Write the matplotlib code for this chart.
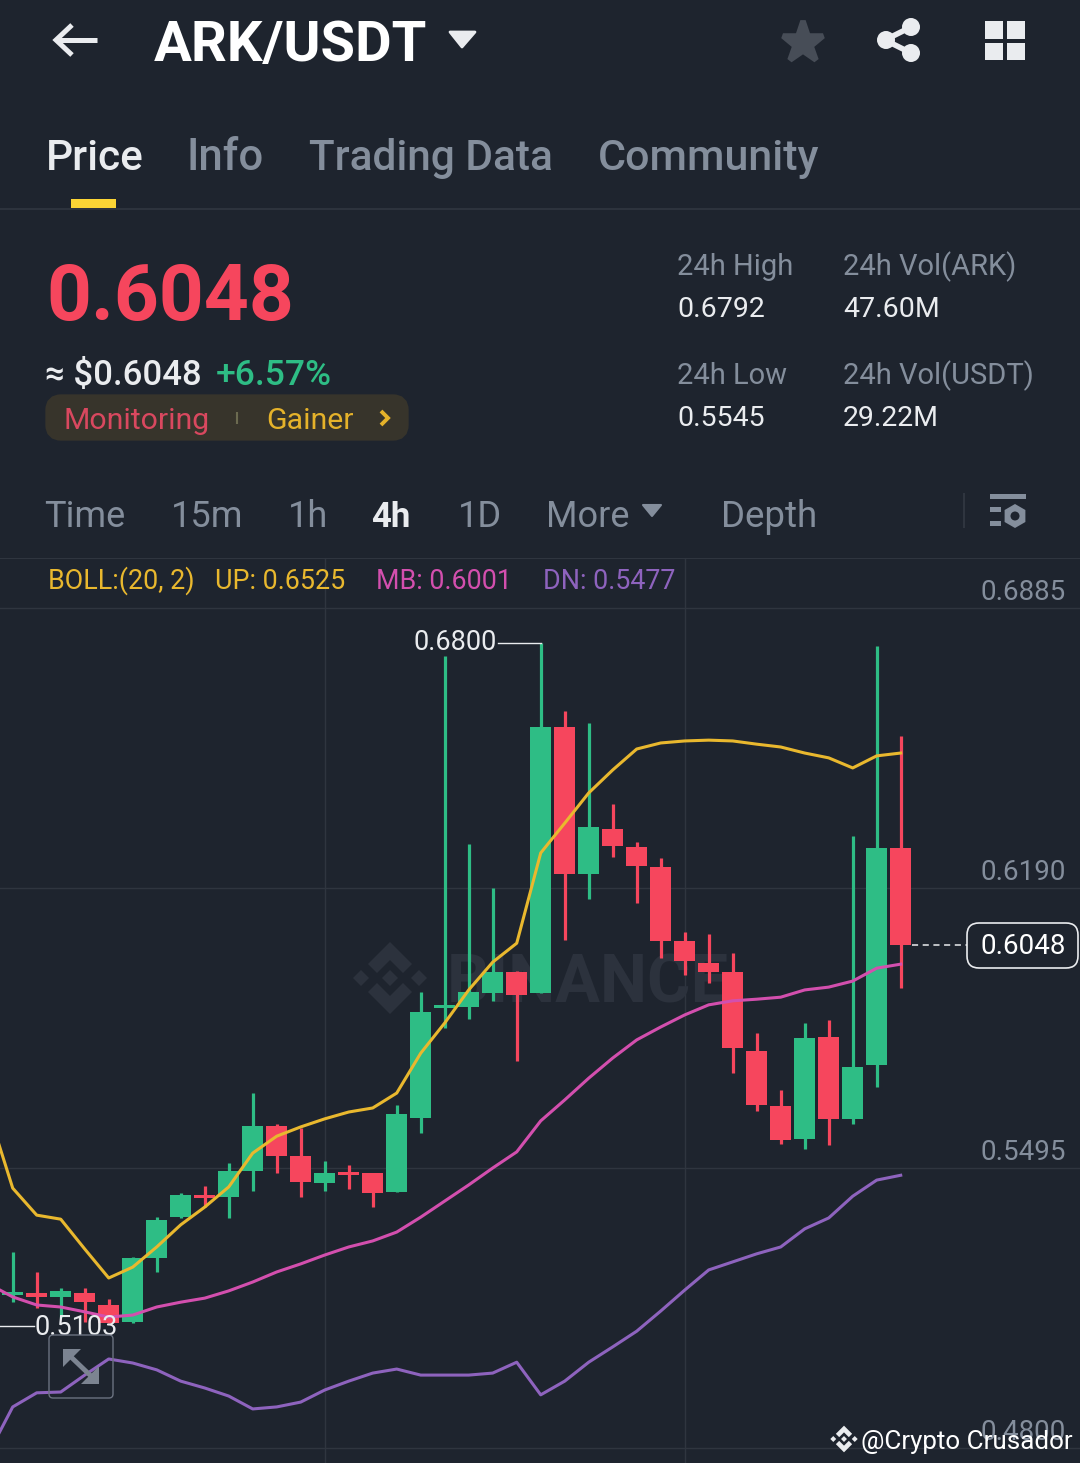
import numpy as np
import matplotlib
matplotlib.use('Agg')
import matplotlib.pyplot as plt
from matplotlib.patches import Rectangle, FancyBboxPatch, Polygon, Circle, RegularPolygon
from matplotlib.transforms import ScaledTranslation

plt.rcParams['font.family'] = ['Roboto', 'DejaVu Sans']

# 4h candles
opens = [.5180, .5185, .5175, .5185, .5155, .5113, .5272, .5373, .5428, .5423,
         .5488, .5599, .5525, .5458, .5485, .5483, .5435, .5619, .5892, .5895,
         .5929, .5982, .5929, .6590, .6225, .6336, .6292, .6242, .6058, .6004,
         .5982, .5785, .5649, .5567, .5820, .5617, .5751, .6289]
closes = [.5187, .5175, .5190, .5162, .5110, .5272, .5366, .5428, .5421, .5488,
          .5599, .5525, .5460, .5483, .5478, .5433, .5629, .5882, .5900, .5932,
          .5982, .5924, .6590, .6225, .6341, .6294, .6245, .6058, .6009, .5982,
          .5793, .5651, .5564, .5818, .5617, .5746, .6289, .6048]
highs = [.5286, .5237, .5197, .5197, .5170, .5274, .5373, .5433, .5450, .5507,
         .5681, .5604, .5594, .5512, .5502, .5483, .5651, .5932, .6766, .6299,
         .6190, .5984, .6798, .6629, .6600, .6398, .6304, .6264, .6081, .6076,
         .6029, .5830, .5689, .5855, .5862, .6319, .6791, .6567]
lows = [.5162, .5148, .5125, .5113, .5110, .5110, .5237, .5371, .5398, .5371,
        .5438, .5483, .5423, .5438, .5443, .5398, .5435, .5582, .5843, .5865,
        .5910, .5761, .5929, .6061, .6163, .6267, .6153, .6016, .5974, .5954,
        .5731, .5636, .5555, .5542, .5552, .5604, .5696, .5942]

# Bollinger bands, first point is one candle off the left edge
boll_up = [.5634, .5445, .5378, .5368, .5294, .5222, .5249, .5299, .5354, .5398,
           .5448, .5532, .5574, .5597, .5617, .5634, .5644, .5681, .5780, .5855,
           .5937, .6006, .6053, .6277, .6351, .6426, .6483, .6535, .6550, .6555,
           .6557, .6555, .6547, .6540, .6525, .6513, .6488, .6518, .6525]
boll_mb = [.5207, .5175, .5155, .5150, .5138, .5125, .5130, .5150, .5162, .5172,
           .5190, .5212, .5237, .5257, .5279, .5299, .5314, .5336, .5373, .5413,
           .5453, .5495, .5535, .5612, .5664, .5718, .5768, .5813, .5845, .5875,
           .5900, .5910, .5914, .5919, .5937, .5944, .5959, .5991, .6001]
boll_dn = [.4788, .4902, .4937, .4939, .4981, .5021, .5011, .4994, .4966, .4949,
           .4929, .4897, .4902, .4914, .4944, .4966, .4986, .4996, .4981, .4981,
           .4981, .4986, .5013, .4932, .4966, .5013, .5051, .5090, .5140, .5192,
           .5242, .5262, .5282, .5299, .5344, .5371, .5425, .5465, .5477]

price_ticks = [0.6885, 0.6190, 0.5495, 0.4800]
last_price = 0.6048
low_mark = 0.5103
high_mark = 0.6800

BG = '#1E242E'
GREEN = '#2EBD85'
RED = '#F6465D'
GREY = '#848E9C'
LINE = '#2F353F'
WHITE = '#EAECEF'
YEL = '#E9B82E'
PINK = '#D34FAE'
PURP = '#8E63BE'
MARK = '#2C323D'

W, H = 1080, 1463
fig = plt.figure(figsize=(W / 100, H / 100), dpi=100, facecolor=BG)

# chart area, from the line under the tabs down to the bottom edge
ax = fig.add_axes([0, 0, 1, (H - 558) / H], facecolor=BG)
ax.set_xlim(-0.53, 44.47)
ax.set_ylim(0.47628, 0.70091)
for s in ax.spines.values():
    s.set_visible(False)
ax.spines['top'].set_visible(True)
ax.spines['top'].set_color(LINE)
ax.set_xticks([13, 28])
ax.set_xticklabels([])
ax.set_yticks(price_ticks)
ax.set_yticklabels(['%.4f' % p for p in price_ticks])
ax.yaxis.tick_right()
ax.tick_params(axis='both', length=0)
ax.tick_params(axis='y', pad=-10, labelsize=20, labelcolor=GREY)
for lab in ax.get_yticklabels():
    lab.set_ha('right')
    lab.set_va('bottom')
    lab.set_transform(lab.get_transform() + ScaledTranslation(0, 2 / 100, fig.dpi_scale_trans))
ax.grid(True, color=LINE, lw=1)
ax.set_axisbelow(True)

# everything else of the app screen, in screen pixels
ui = fig.add_axes([0, 0, 1, 1], facecolor='none')
ui.set_xlim(0, W)
ui.set_ylim(H, 0)
ui.axis('off')


def txt(x, y, s, size, color, weight='normal', ha='left'):
    ui.text(x, y, s, fontsize=size, color=color, fontweight=weight, ha=ha, va='baseline')


def poly(pts, color, lw=0):
    ui.add_patch(Polygon(pts, closed=True, facecolor=color, edgecolor=color, lw=lw,
                         joinstyle='round'))


def stroke(xs, ys, color, lw):
    ui.plot(xs, ys, color=color, lw=lw, solid_capstyle='butt', solid_joinstyle='miter')


def logo(target, cx, cy, k, color, z):
    # binance logo: three small diamonds and two chevrons
    for dx in (-29, 0, 29):
        target.add_patch(RegularPolygon((cx + dx * k, cy), 4, radius=8 * k, color=color, lw=0,
                                        transform=ui.transData, zorder=z))
    for sign in (-1, 1):
        pts = [(0, 36), (22, 14), (13, 5), (0, 18), (-13, 5), (-22, 14)]
        pts = [(cx + a * k, cy + sign * b * k) for a, b in pts]
        target.add_patch(Polygon(pts, closed=True, color=color, lw=0,
                                 transform=ui.transData, zorder=z))


# faint BINANCE mark behind the candles
ax.text(18.1, 0.5950, 'BINANCE', color=MARK, fontsize=48, fontweight='bold',
        ha='left', va='center', zorder=1)
logo(ax, 390, 978, 1, MARK, 1)

idx = np.arange(len(opens))
for i in idx:
    c = GREEN if closes[i] >= opens[i] else RED
    ax.vlines(i, lows[i], highs[i], color=c, lw=2.3, zorder=3)
    ax.bar(i, abs(closes[i] - opens[i]), bottom=min(opens[i], closes[i]), width=0.88,
           color=c, zorder=3)

xb = np.arange(-1, len(boll_up) - 1)
ax.plot(xb, boll_up, color=YEL, lw=2.2, zorder=4)
ax.plot(xb, boll_mb, color=PINK, lw=2.2, zorder=4)
ax.plot(xb, boll_dn, color=PURP, lw=2.2, zorder=4)

# high / low markers
ax.plot([20.2, 22], [highs[22], highs[22]], color=WHITE, lw=1, zorder=5)
ax.plot([-0.53, 0.9], [low_mark, low_mark], color=WHITE, lw=1, zorder=5)
ax.text(20.17, highs[22] + 0.0001, '%.4f' % high_mark, color=WHITE, fontsize=19.5,
        ha='right', va='center', zorder=6)
ax.text(0.9, low_mark - 0.0004, '%.4f' % low_mark, color=WHITE, fontsize=19.5,
        ha='left', va='center', zorder=6)
ax.plot([37.45, 39.75], [last_price, last_price], color=WHITE, lw=1.1,
        dashes=(4, 3), zorder=5)

ui.hlines(209, 0, W, color=LINE, lw=1.3)
ui.add_patch(Rectangle((71, 199), 45, 9, color='#FCD535', lw=0))

# header
stroke([97, 58], [40, 40], WHITE, 3.6)
stroke([72, 56, 72], [25, 40, 55], WHITE, 3.6)
txt(154, 61, 'ARK/USDT', 40.5, '#FFFFFF', 'bold')
poly([(450, 32), (475, 32), (462, 47)], WHITE, 2)
ui.plot([803], [43], marker='*', ms=31, color='#474D57', mew=4, mec='#474D57')
stroke([885, 911], [40, 27], WHITE, 4)
stroke([885, 911], [40, 53], WHITE, 4)
for cx, cy in [(886, 40), (911, 27), (911, 53)]:
    ui.add_patch(Circle((cx, cy), 9, color=WHITE, lw=0))
for x0, y0, dx, dy in [(985, 21, 18, 18), (1007, 21, 18, 18), (985, 43, 18, 17), (1007, 43, 18, 17)]:
    ui.add_patch(Rectangle((x0, y0), dx, dy, color=WHITE, lw=0))

# tabs
txt(46, 170, 'Price', 30.5, WHITE, 'medium')
txt(187, 170, 'Info', 31.5, GREY, 'medium')
txt(309, 170, 'Trading Data', 30.5, GREY, 'medium')
txt(598, 170, 'Community', 31, GREY, 'medium')

# price block
txt(46, 320, '0.6048', 56.5, RED, 'bold')
txt(45, 385, '≈ $0.6048', 25, WHITE, 'medium')
txt(216, 385, '+6.57%', 25.5, GREEN, 'medium')
ui.add_patch(FancyBboxPatch((53, 402), 348, 31, boxstyle='round,pad=0,rounding_size=8',
                            mutation_aspect=1, facecolor='#37342B', edgecolor='#37342B', lw=11))
txt(63, 429, 'Monitoring', 21.8, '#D9485F')
ui.vlines(237, 412, 424, color='#6B6A50', lw=1.5)
txt(266, 429, 'Gainer', 21.8, '#E5B22A')
stroke([381, 388, 381], [411, 418, 425], '#E5B22A', 2.8)

txt(677, 275, '24h High', 21, GREY)
txt(677, 317, '0.6792', 20.5, WHITE)
txt(677, 384, '24h Low', 21, GREY)
txt(677, 426, '0.5545', 20.5, WHITE)
txt(843, 275, '24h Vol(ARK)', 21, GREY)
txt(843, 317, '47.60M', 20.5, WHITE)
txt(843, 384, '24h Vol(USDT)', 21, GREY)
txt(843, 426, '29.22M', 20.5, WHITE)

# interval row
txt(44, 527, 'Time', 26, GREY)
txt(171, 527, '15m', 26, GREY)
txt(288, 527, '1h', 26, GREY)
txt(371, 527, '4h', 25, WHITE, 'bold')
txt(458, 527, '1D', 26, GREY)
txt(546, 527, 'More', 26, GREY)
poly([(643, 505), (661, 505), (652, 516)], GREY, 1.5)
txt(721, 527, 'Depth', 26.5, GREY)
ui.vlines(964, 493, 528, color=LINE, lw=1.5)
for x0, y0, dx, dy in [(990, 494, 36, 5), (990, 507, 11, 5), (990, 521, 11, 5)]:
    ui.add_patch(Rectangle((x0, y0), dx, dy, color=GREY, lw=0))
ui.add_patch(RegularPolygon((1015, 516), 6, radius=12, color=GREY, lw=0))
ui.add_patch(Circle((1015, 516), 4.5, color=BG, lw=0))

# BOLL legend
txt(48, 589, 'BOLL:(20, 2)', 19.4, YEL)
txt(215, 589, 'UP: 0.6525', 19.4, YEL)
txt(376, 589, 'MB: 0.6001', 19.4, PINK)
txt(543, 589, 'DN: 0.5477', 19.4, PURP)

# current price tag
ui.add_patch(FancyBboxPatch((977, 933), 91, 26, boxstyle='round,pad=0,rounding_size=8',
                            facecolor=BG, edgecolor=BG, lw=14, zorder=6))
ui.add_patch(FancyBboxPatch((967, 923), 111, 45, boxstyle='round,pad=0,rounding_size=12',
                            facecolor='none', edgecolor=WHITE, lw=1.2, zorder=7))
ui.text(1023, 947, '%.4f' % last_price, fontsize=20, color='#FFFFFF', ha='center',
        va='center', zorder=8)

# expand button
ui.add_patch(FancyBboxPatch((49, 1335), 64, 63, boxstyle='round,pad=0,rounding_size=4',
                            facecolor='none', edgecolor='#6B7280', lw=1))
poly([(63, 1349), (81, 1349), (63, 1367)], '#7C8491')
poly([(99, 1384), (81, 1384), (99, 1366)], '#7C8491')
stroke([70, 92], [1356, 1377], '#7C8491', 3.5)

# author tag at the bottom
logo(ui, 844, 1439, 0.37, WHITE, 8)
ui.text(861, 1449, '@Crypto Crusador', fontsize=18.7, color='#FFFFFF', va='baseline', zorder=8)

fig.savefig('out.png', dpi=100, facecolor=BG)
